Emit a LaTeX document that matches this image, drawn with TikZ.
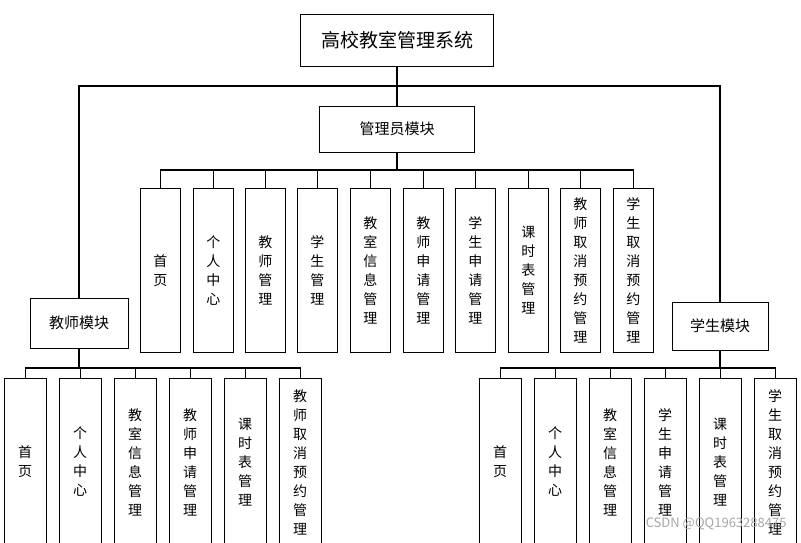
\documentclass[tikz,border=0pt]{standalone}
\usepackage{fontspec}
\setmainfont{Noto Sans CJK SC}
\begin{document}
\begin{tikzpicture}[x=1pt,y=-1pt,
  bx/.style={draw,line width=0.8pt,minimum width=#1,inner sep=0pt},
  vb/.style={draw,line width=0.8pt,anchor=north west,minimum width=40pt,inner sep=0pt},
  vt/.style={align=center,font=\fontsize{14}{19}\selectfont},
  ln/.style={line width=1.2pt}]
\useasboundingbox (0,0) rectangle (801,543);
\clip (0,0) rectangle (801,543);
\node[bx=193pt,minimum height=52pt,font=\fontsize{19}{22}\selectfont] (root) at (397,40) {高校教室管理系统};
\node[bx=155pt,minimum height=46pt,font=\fontsize{15}{18}\selectfont] (adm) at (397,129) {管理员模块};
\node[bx=98pt,minimum height=50pt,font=\fontsize{15}{18}\selectfont] (tea) at (79,323) {教师模块};
\node[bx=96pt,minimum height=48pt,font=\fontsize{15}{18}\selectfont] (stu) at (720,326) {学生模块};
\coordinate (j) at (397,86);
\draw[ln] (root.south) -- (j);
\draw[ln] (tea.north) |- (j) -| (stu.north);
\draw[ln] (j) -- (adm.north);
% admin children
\foreach \x/\t [count=\i] in {140/首\\页,193/个\\人\\中\\心,245/教\\师\\管\\理,297/学\\生\\管\\理,350/教\\室\\信\\息\\管\\理,403/教\\师\\申\\请\\管\\理,455/学\\生\\申\\请\\管\\理,508/课\\时\\表\\管\\理,560/教\\师\\取\\消\\预\\约\\管\\理,613/学\\生\\取\\消\\预\\约\\管\\理}{
  \node[vb,minimum height=164pt] (a\i) at (\x,188) {};
  \node[vt] at (a\i.center) {\t};
}
\draw[ln] (a1.north) -- ++(0,-18) -| (a10.north);
\foreach \i in {2,...,9}{\draw[ln] (a\i.north) -- ++(0,-18);}
\draw[ln] (adm.south) -- (397,170);
% teacher children
\foreach \x/\t [count=\i] in {4/首\\页,59/个\\人\\中\\心,114/教\\室\\信\\息\\管\\理,169/教\\师\\申\\请\\管\\理,224/课\\时\\表\\管\\理,279/教\\师\\取\\消\\预\\约\\管\\理}{
  \node[vb,minimum width=42pt,minimum height=180pt] (t\i) at (\x,378) {};
  \node[vt] at (\x+21,462) {\t};
}
\draw[ln] (t1.north) -- ++(0,-10) -| (t6.north);
\foreach \i in {2,...,5}{\draw[ln] (t\i.north) -- ++(0,-10);}
\draw[ln] (tea.south) -- (79,368);
% student children
\foreach \x/\t [count=\i] in {479/首\\页,534/个\\人\\中\\心,589/教\\室\\信\\息\\管\\理,644/学\\生\\申\\请\\管\\理,699/课\\时\\表\\管\\理,754/学\\生\\取\\消\\预\\约\\管\\理}{
  \node[vb,minimum width=42pt,minimum height=180pt] (s\i) at (\x,378) {};
  \node[vt] at (\x+21,462) {\t};
}
\draw[ln] (s1.north) -- ++(0,-10) -| (s6.north);
\foreach \i in {2,...,5}{\draw[ln] (s\i.north) -- ++(0,-10);}
\draw[ln] (stu.south) -- (720,368);
\node[text=gray!70,font=\fontsize{13}{15}\selectfont,anchor=east] (wm) at (790,524) {CSDN @QQ1963288475};
\end{tikzpicture}
\end{document}
